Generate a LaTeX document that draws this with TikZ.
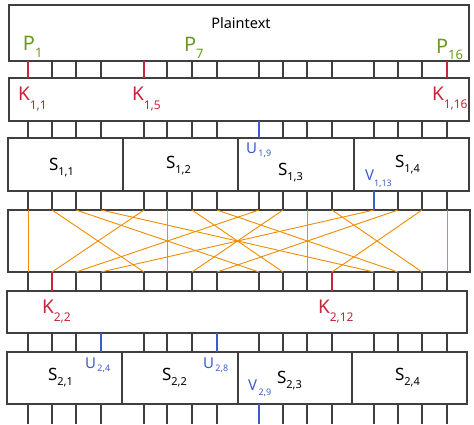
\documentclass[tikz,border=0pt]{standalone}
\usepackage{fontspec}
\setmainfont{Noto Sans}
\definecolor{lgray}{HTML}{3F3F3F}
\definecolor{pgreen}{HTML}{6A9A23}
\definecolor{kred}{HTML}{C9253A}
\definecolor{ublue}{HTML}{3D5BC9}
\definecolor{porange}{HTML}{F08C00}
\newcommand\mk[5]{{\fontsize{#3}{#3}\selectfont #1}\raisebox{-#5pt}{\fontsize{#4}{#4}\selectfont #2}}
\tikzset{
  box/.style={draw=lgray, line width=1.2pt, rectangle, inner sep=0pt, outer sep=0pt, anchor=north west, fill=white},
  wire/.style={draw=lgray, line width=1.1pt},
  rwire/.style={draw=kred, line width=1.1pt},
  bwire/.style={draw=ublue, line width=1.1pt},
  pline/.style={draw=porange, line width=0.9pt},
  lab/.style={anchor=base west, inner sep=0pt, outer sep=0pt},
}
\begin{document}
\begin{tikzpicture}[x=1pt,y=-1pt]
\useasboundingbox (0,0) rectangle (474,424);
% boxes
\node[box, minimum width=460pt, minimum height=56pt] (pt) at (9,5) {};
\node[box, minimum width=460pt, minimum height=43pt] (k1) at (9,78) {};
\node[box, minimum width=115pt, minimum height=53pt] (s11) at (8,138) {};
\node[box, minimum width=115pt, minimum height=53pt] (s12) at (123,138) {};
\node[box, minimum width=116pt, minimum height=53pt] (s13) at (238,138) {};
\node[box, minimum width=115pt, minimum height=53pt] (s14) at (354,138) {};
\node[box, minimum width=462pt, minimum height=62pt] (perm) at (8,210) {};
\node[box, minimum width=460pt, minimum height=42pt] (k2) at (7,291) {};
\node[box, minimum width=115pt, minimum height=52pt] (s21) at (7,352) {};
\node[box, minimum width=116pt, minimum height=52pt] (s22) at (122,352) {};
\node[box, minimum width=114pt, minimum height=52pt] (s23) at (238,352) {};
\node[box, minimum width=115pt, minimum height=52pt] (s24) at (352,352) {};
\coordinate (bot) at (0,424);
% wire positions
\foreach \i/\x in {1/28,2/52,3/76,4/101,5/144,6/167,7/192,8/217,9/259,10/283,11/307,12/332,13/374,14/398,15/422,16/447}
  \coordinate (w\i) at (\x,0);
% wire segments
\foreach \i in {1,...,16}{
  \draw[wire] (w\i |- pt.south) -- (w\i |- k1.north);
  \draw[wire] (w\i |- k1.south) -- (w\i |- s11.north);
  \draw[wire] (w\i |- s11.south) -- (w\i |- perm.north);
  \draw[wire] (w\i |- perm.south) -- (w\i |- k2.north);
  \draw[wire] (w\i |- k2.south) -- (w\i |- s21.north);
  \draw[wire] (w\i |- s21.south) -- (w\i |- bot);
}
% coloured wires
\foreach \i in {1,5,16} \draw[rwire] (w\i |- pt.south) -- (w\i |- k1.north);
\draw[bwire] (w9 |- k1.south) -- (w9 |- s13.north);
\draw[bwire] (w13 |- s14.south) -- (w13 |- perm.north);
\foreach \i in {2,12} \draw[rwire] (w\i |- perm.south) -- (w\i |- k2.north);
\foreach \i in {4,8} \draw[bwire] (w\i |- k2.south) -- (w\i |- s21.north);
\draw[bwire] (w9 |- s23.south) -- (w9 |- bot);
% permutation
\foreach \i/\j in {1/1,2/5,3/9,4/13,5/2,6/6,7/10,8/14,9/3,10/7,11/11,12/15,13/4,14/8,15/12,16/16}
  \draw[pline] (w\i |- perm.north) -- (w\j |- perm.south);
% labels
\node[font=\fontsize{14.5}{14.5}\selectfont, inner sep=0pt] (ptxt) at (241,23) {Plaintext};
\node[lab, text=pgreen] (p1) at (23,50) {\mk{P}{1}{20}{13}{7}};
\node[lab, text=pgreen] (p7) at (184,51) {\mk{P}{7}{20}{13}{7}};
\node[lab, text=pgreen] (p16) at (436,53) {\mk{P}{16}{20}{13}{6}};
\node[lab, text=kred] (k11) at (18,100) {\mk{K}{1,1}{19}{12}{9}};
\node[lab, text=kred] (k15) at (132,100) {\mk{K}{1,5}{19}{12}{9}};
\node[lab, text=kred] (k116) at (432,100) {\mk{K}{1,16}{19}{12}{8}};
\node[lab] (l11) at (49,170) {\mk{S}{1,1}{17}{11}{5}};
\node[lab] (l12) at (166,168) {\mk{S}{1,2}{17}{11}{5}};
\node[lab] (l13) at (278,175) {\mk{S}{1,3}{17}{11}{5}};
\node[lab] (l14) at (395,167) {\mk{S}{1,4}{17}{11}{5}};
\node[lab, text=ublue] (u19) at (246,153) {\mk{U}{\,1,9}{15}{9}{3}};
\node[lab, text=ublue] (v113) at (365,180) {\mk{V}{1,13}{15}{9}{6}};
\node[lab, text=kred] (k22) at (42,313) {\mk{K}{2,2}{19}{12}{8}};
\node[lab, text=kred] (k212) at (318,313) {\mk{K}{2,12}{19}{12}{8}};
\node[lab, text=ublue] (u24) at (85,368) {\mk{U}{\,2,4}{15}{9}{3}};
\node[lab, text=ublue] (u28) at (203,368) {\mk{U}{\,2,8}{15}{9}{3}};
\node[lab] (l21) at (48,380) {\mk{S}{2,1}{17}{11}{5}};
\node[lab] (l22) at (162,380) {\mk{S}{2,2}{17}{11}{5}};
\node[lab] (l23) at (277,383) {\mk{S}{2,3}{17}{11}{5}};
\node[lab] (l24) at (395,380) {\mk{S}{2,4}{17}{11}{5}};
\node[lab, text=ublue] (v29) at (248,390) {\mk{V}{\,2,9}{15}{9}{5}};
\end{tikzpicture}
\end{document}
